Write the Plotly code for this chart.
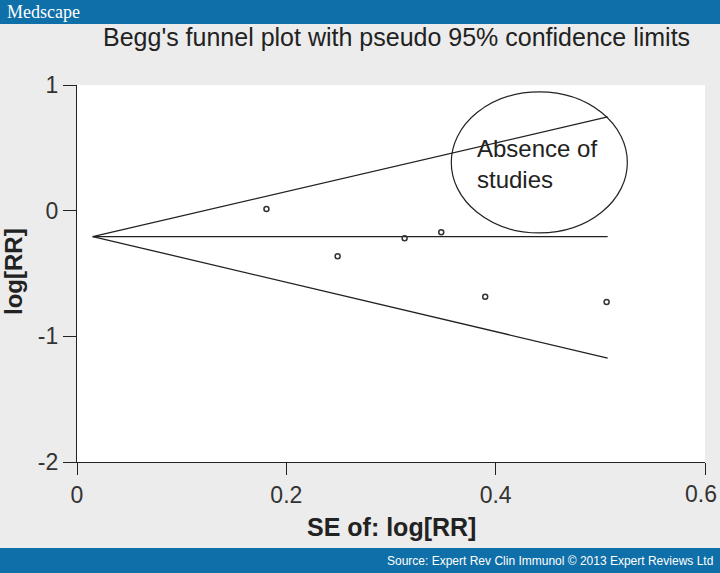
import plotly.graph_objects as go

# ---- data ----
se_studies = [0.181, 0.249, 0.313, 0.348, 0.390, 0.506]
logrr_studies = [0.014, -0.362, -0.219, -0.171, -0.685, -0.726]

funnel_se = [0.015, 0.507]
funnel_center = [-0.206, -0.206]
funnel_upper = [-0.206, 0.746]
funnel_lower = [-0.206, -1.173]

ellipse_x = [0.3576, 0.5258]
ellipse_y = [-0.177, 0.945]

x_ticks = [0, 0.2, 0.4, 0.6]
x_ticktext = ["0", "0.2", "0.4", "0.6"]
y_ticks = [-2, -1, 0, 1]
y_ticktext = ["-2", "-1", "0", "1"]

title_text = "Begg's funnel plot with pseudo 95% confidence limits"
x_title = "SE of: log[RR]"
y_title = "log[RR]"
note_text = "Absence of<br>studies"
source_text = "Source: Expert Rev Clin Immunol © 2013 Expert Reviews Ltd"
brand_text = "Medscape"

# ---- layout geometry ----
W, H = 720, 573
ML, MR, MT, MB = 77, 15, 85, 111
plot_h = H - MT - MB
plot_w = W - ML - MR


def py(p):
    """pixel y (from top) -> paper y"""
    return (H - MB - p) / plot_h


def px(p):
    return (p - ML) / plot_w


BLUE = "#0f6fa8"
INK = "#222222"
FONT = "Liberation Sans, Arial, sans-serif"
TICKFONT = dict(family=FONT, size=23, color="#333333")

fig = go.Figure()

line_style = dict(color=INK, width=1.3)
fig.add_trace(go.Scatter(x=funnel_se, y=funnel_upper, mode="lines", line=line_style, hoverinfo="skip"))
fig.add_trace(go.Scatter(x=funnel_se, y=funnel_center, mode="lines", line=line_style, hoverinfo="skip"))
fig.add_trace(go.Scatter(x=funnel_se, y=funnel_lower, mode="lines", line=line_style, hoverinfo="skip"))
fig.add_trace(go.Scatter(
    x=se_studies, y=logrr_studies, mode="markers",
    marker=dict(symbol="circle-open", size=5, color="#333333", line=dict(width=1.5)),
))

shapes = [
    dict(type="circle", xref="x", yref="y",
         x0=ellipse_x[0], x1=ellipse_x[1], y0=ellipse_y[0], y1=ellipse_y[1],
         line=dict(color=INK, width=1.2)),
    # top banner
    dict(type="rect", xref="paper", yref="paper", x0=px(0), x1=px(W),
         y0=py(24), y1=py(0), fillcolor=BLUE, line=dict(width=0), layer="above"),
    # bottom banner
    dict(type="rect", xref="paper", yref="paper", x0=px(0), x1=px(W),
         y0=py(H), y1=py(548), fillcolor=BLUE, line=dict(width=0), layer="above"),
]

annotations = [
    dict(text=note_text, x=0.380, y=0.37, xref="x", yref="y", showarrow=False,
         xanchor="left", yanchor="middle", align="left",
         font=dict(family=FONT, size=24, color=INK)),
    dict(text=title_text, x=px(396), y=py(37), xref="paper", yref="paper", showarrow=False,
         xanchor="center", yanchor="middle", font=dict(family=FONT, size=25, color=INK)),
    dict(text="<b>" + x_title + "</b>", x=px(391), y=py(527), xref="paper", yref="paper",
         showarrow=False, xanchor="center", yanchor="middle",
         font=dict(family=FONT, size=25, color=INK)),
    dict(text="<b>" + y_title + "</b>", x=px(13), y=py(272), xref="paper", yref="paper",
         showarrow=False, textangle=-90, xanchor="center", yanchor="middle",
         font=dict(family=FONT, size=24, color=INK)),
    dict(text=brand_text, x=px(5), y=py(12), xref="paper", yref="paper", showarrow=False,
         xanchor="left", yanchor="middle",
         font=dict(family="Liberation Serif, DejaVu Serif, serif", size=18, color="white")),
    dict(text=source_text, x=px(715), y=py(561), xref="paper", yref="paper", showarrow=False,
         xanchor="right", yanchor="middle", font=dict(family=FONT, size=12, color="white")),
    # last x tick label, kept inside the page edge
    dict(text=x_ticktext[-1], x=x_ticks[-1], xref="x", y=py(494), yref="paper",
         showarrow=False, xanchor="right", yanchor="middle", xshift=14,
         font=TICKFONT),
]

shown_xticktext = x_ticktext[:-1] + [""]

fig.update_layout(
    width=W, height=H, autosize=False,
    margin=dict(l=ML, r=MR, t=MT, b=MB, pad=0),
    paper_bgcolor="#ececec", plot_bgcolor="white",
    showlegend=False,
    shapes=shapes, annotations=annotations,
    font=dict(family=FONT, color=INK),
)
fig.update_xaxes(
    range=[0, 0.6], tickvals=x_ticks, ticktext=shown_xticktext,
    showline=True, linecolor=INK, linewidth=1.3, mirror=False,
    ticks="outside", ticklen=12, tickwidth=1.3, tickcolor=INK,
    showgrid=False, zeroline=False,
    tickfont=TICKFONT,
)
fig.update_yaxes(
    range=[-2, 1], tickvals=y_ticks, ticktext=y_ticktext,
    showline=True, linecolor=INK, linewidth=1.3, mirror=False,
    ticks="outside", ticklen=13, tickwidth=1.3, tickcolor=INK,
    showgrid=False, zeroline=False,
    tickfont=TICKFONT,
)

fig.write_html("out.html", config={"responsive": False})
